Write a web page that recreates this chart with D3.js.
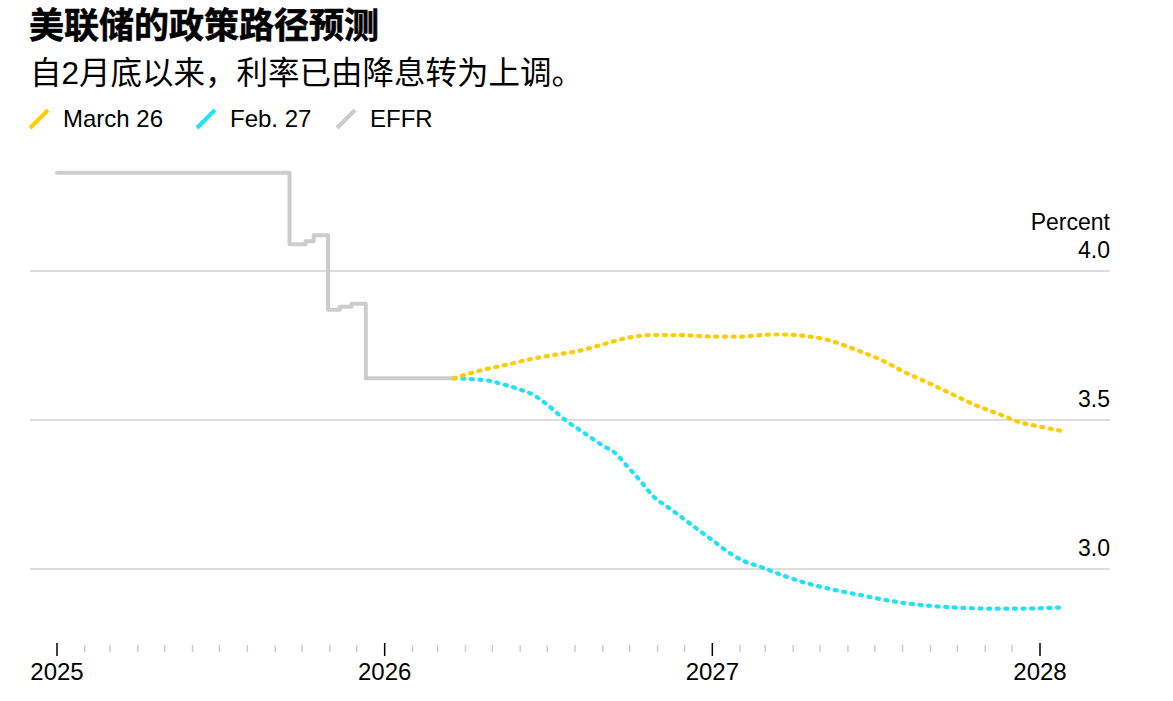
<!DOCTYPE html>
<html><head><meta charset="utf-8">
<script src="https://cdn.jsdelivr.net/npm/d3@7"></script>
<style>
html,body{margin:0;padding:0;background:#fff;}
text{font-family:'Liberation Sans','Noto Sans CJK SC',sans-serif;}
</style></head>
<body><svg id="c" width="1173" height="701"></svg>
<script>
const title = "美联储的政策路径预测";
const subtitle = "自2月底以来，利率已由降息转为上调。";
const seriesNames = ["March 26", "Feb. 27", "EFFR"];
const seriesColors = ["#ffcc00", "#1fe3f5", "#cccccc"];

const effrDates = ["2025-01-01","2025-09-17","2025-10-05","2025-10-14","2025-10-30","2025-11-12","2025-11-25","2025-12-11","2026-03-19"];
const effrValues = [4.33, 4.09, 4.10, 4.12, 3.87, 3.88, 3.89, 3.64, 3.64];

const marchDates = ["2026-03-19","2026-04-16","2026-05-16","2026-06-14","2026-07-12","2026-08-02","2026-08-28","2026-09-27","2026-10-26","2026-11-25","2027-01-01","2027-01-31","2027-03-02","2027-03-19","2027-04-19","2027-05-08","2027-06-06","2027-07-09","2027-08-05","2027-08-30","2027-09-25","2027-10-21","2027-11-19","2027-12-08","2028-01-01","2028-01-26"];
const marchValues = [3.64,3.665,3.685,3.705,3.72,3.73,3.75,3.775,3.785,3.785,3.78,3.78,3.786,3.787,3.78,3.77,3.74,3.70,3.658,3.624,3.587,3.55,3.517,3.494,3.478,3.463];

const febDates = ["2026-03-19","2026-04-08","2026-04-27","2026-05-16","2026-06-03","2026-06-14","2026-06-30","2026-07-22","2026-08-09","2026-08-31","2026-09-16","2026-09-27","2026-10-12","2026-10-26","2026-11-17","2026-12-09","2027-01-01","2027-01-20","2027-02-04","2027-02-23","2027-03-19","2027-04-19","2027-05-08","2027-06-14","2027-07-15","2027-08-12","2027-09-11","2027-10-11","2027-11-09","2027-12-08","2028-01-08","2028-01-26"];
const febValues = [3.64,3.637,3.632,3.617,3.60,3.587,3.554,3.498,3.461,3.416,3.386,3.349,3.299,3.248,3.198,3.148,3.097,3.054,3.028,3.008,2.98,2.95,2.936,2.913,2.895,2.882,2.874,2.869,2.867,2.867,2.869,2.871];

const yTicks = [3.0, 3.5, 4.0];
const xTickYears = ["2025","2026","2027","2028"];

const parse = d3.timeParse("%Y-%m-%d");
const svg = d3.select("#c");

const x = d3.scaleTime().domain([parse("2025-01-01"), parse("2028-01-01")]).range([57, 1040]);
const y = d3.scaleLinear().domain([3.0, 4.0]).range([569, 271]);

// Title & subtitle
svg.append("text").attr("x", 29).attr("y", 38).attr("font-size", 35).attr("font-weight", "bold")
  .style("font-family", "'Noto Sans CJK SC',sans-serif").attr("fill", "#000")
  .attr("stroke", "#000").attr("stroke-width", 0.6).text(title);
svg.append("text").attr("x", 30).attr("y", 84).attr("font-size", 31.5).attr("fill", "#000").text(subtitle);

// Legend
const legX = [30, 197, 337];
seriesNames.forEach((n, i) => {
  svg.append("line").attr("x1", legX[i]).attr("y1", 128).attr("x2", legX[i] + 18).attr("y2", 110)
    .attr("stroke", seriesColors[i]).attr("stroke-width", 4);
  svg.append("text").attr("x", legX[i] + 33).attr("y", 127).attr("font-size", 24).attr("fill", "#000").text(n);
});

// Grid lines
svg.append("g").selectAll("line").data(yTicks).join("line")
  .attr("x1", 30).attr("x2", 1110).attr("y1", d => y(d)).attr("y2", d => y(d))
  .attr("stroke", "#d0d0d0").attr("stroke-width", 1.5);
svg.append("g").selectAll("text").data(yTicks).join("text")
  .attr("x", 1110).attr("y", d => y(d) - 13).attr("text-anchor", "end").attr("font-size", 23)
  .attr("fill", "#000").text(d => d3.format(".1f")(d));
svg.append("text").attr("x", 1110).attr("y", 230).attr("text-anchor", "end").attr("font-size", 23).attr("fill", "#000").text("Percent");

// X axis: monthly minor ticks + yearly major ticks
const months = d3.timeMonth.range(parse("2025-01-01"), d3.timeDay.offset(parse("2028-01-01"), 1));
const axisG = svg.append("g");
axisG.selectAll("line.minor").data(months.filter(d => d.getMonth() !== 0)).join("line")
  .attr("class", "minor").attr("x1", d => x(d)).attr("x2", d => x(d)).attr("y1", 645).attr("y2", 652)
  .attr("stroke", "#cccccc").attr("stroke-width", 1.5);
const years = xTickYears.map(s => parse(s + "-01-01"));
axisG.selectAll("line.major").data(years).join("line")
  .attr("class", "major").attr("x1", d => x(d)).attr("x2", d => x(d)).attr("y1", 643).attr("y2", 656)
  .attr("stroke", "#000").attr("stroke-width", 1.5);
axisG.selectAll("text").data(years).join("text")
  .attr("x", d => x(d)).attr("y", 680).attr("text-anchor", "middle").attr("font-size", 24)
  .attr("fill", "#000").text(d => d3.timeFormat("%Y")(d));

// EFFR step line
const effr = effrDates.map((d, i) => ({ date: parse(d), value: effrValues[i] }));
svg.append("path").datum(effr)
  .attr("d", d3.line().x(d => x(d.date)).y(d => y(d.value)).curve(d3.curveStepAfter))
  .attr("fill", "none").attr("stroke", seriesColors[2]).attr("stroke-width", 4)
  .attr("stroke-linejoin", "round").attr("stroke-linecap", "round");

// Projections
const lineGen = d3.line().x(d => x(d.date)).y(d => y(d.value)).curve(d3.curveMonotoneX);
const feb = febDates.map((d, i) => ({ date: parse(d), value: febValues[i] }));
const mar = marchDates.map((d, i) => ({ date: parse(d), value: marchValues[i] }));
[[feb, seriesColors[1]], [mar, seriesColors[0]]].forEach(([data, col]) => {
  svg.append("path").datum(data).attr("d", lineGen)
    .attr("fill", "none").attr("stroke", col).attr("stroke-width", 4.2)
    .attr("stroke-dasharray", "2,6.6").attr("stroke-linecap", "round");
});
</script></body></html>
